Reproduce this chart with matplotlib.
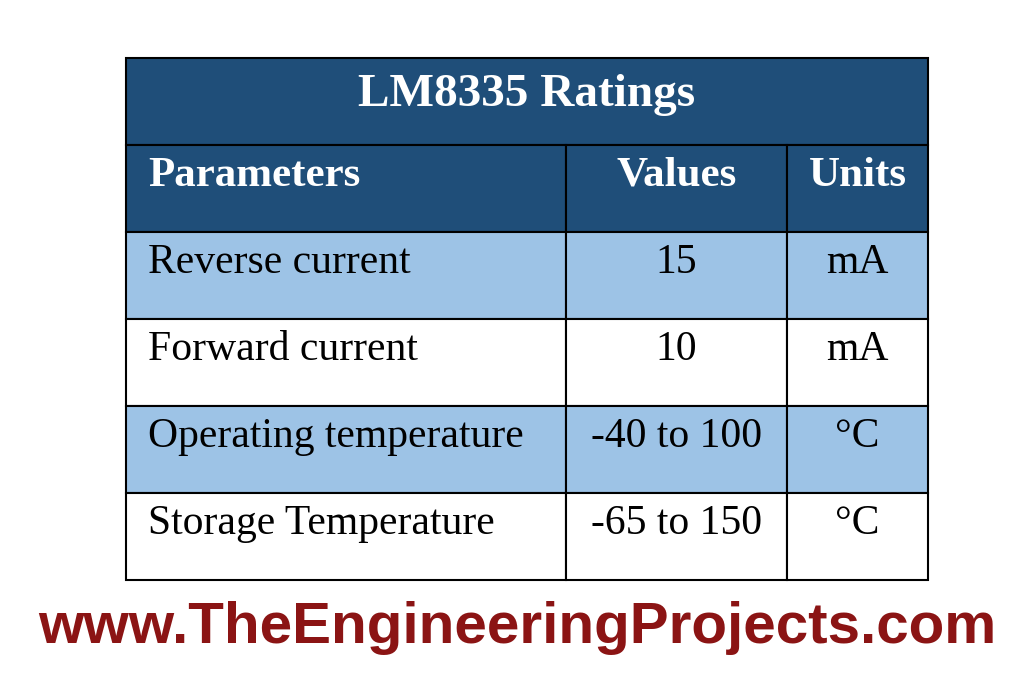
import matplotlib
matplotlib.use("Agg")
import matplotlib.pyplot as plt
from matplotlib.patches import Rectangle

title = "LM8335 Ratings"
headers = ["Parameters", "Values", "Units"]
parameters = ["Reverse current", "Forward current", "Operating temperature", "Storage Temperature"]
values = ["15", "10", "-40 to 100", "-65 to 150"]
units = ["mA", "mA", "°C", "°C"]
watermark = "www.TheEngineeringProjects.com"

W, H = 1024, 675
fig = plt.figure(figsize=(W/100, H/100), dpi=100)
ax = fig.add_axes([0, 0, 1, 1])
ax.set_xlim(0, W); ax.set_ylim(H, 0); ax.axis("off")

dark = "#1F4E79"; light = "#9DC3E6"
x0, x1, x2, x3 = 126, 566, 787, 928
top = 58; row_h = 87
serif = "Liberation Serif"
fs = 30

ax.add_patch(Rectangle((x0, top), x3-x0, row_h, facecolor=dark, edgecolor="black", lw=1.5))
ax.text((x0+x3)/2, top+row_h/2-6, title, color="white", fontsize=34, fontweight="bold",
        family=serif, ha="center", va="center")
y = top + row_h
for (a, b) in [(x0, x1), (x1, x2), (x2, x3)]:
    ax.add_patch(Rectangle((a, y), b-a, row_h, facecolor=dark, edgecolor="black", lw=1.5))
hy = y + row_h/2 - 13
ax.text(x0+22, hy, headers[0], color="white", fontsize=31, fontweight="bold", family=serif, ha="left", va="center")
ax.text((x1+x2)/2, hy, headers[1], color="white", fontsize=31, fontweight="bold", family=serif, ha="center", va="center")
ax.text((x2+x3)/2, hy, headers[2], color="white", fontsize=31, fontweight="bold", family=serif, ha="center", va="center")

for i, (p, v, u) in enumerate(zip(parameters, values, units)):
    yy = top + row_h*(2+i)
    fc = light if i % 2 == 0 else "white"
    for (a, b) in [(x0, x1), (x1, x2), (x2, x3)]:
        ax.add_patch(Rectangle((a, yy), b-a, row_h, facecolor=fc, edgecolor="black", lw=1.5))
    cy = yy + row_h/2 - 13
    ax.text(x0+22, cy, p, color="black", fontsize=fs, family=serif, ha="left", va="center")
    ax.text((x1+x2)/2, cy, v, color="black", fontsize=fs, family=serif, ha="center", va="center")
    ax.text((x2+x3)/2, cy, u, color="black", fontsize=fs, family=serif, ha="center", va="center")

ax.text(W/2+5, 628, watermark, color="#8B1414", fontsize=42, fontweight="bold",
        family="Liberation Sans", ha="center", va="center")

fig.savefig("out.png", dpi=100)
